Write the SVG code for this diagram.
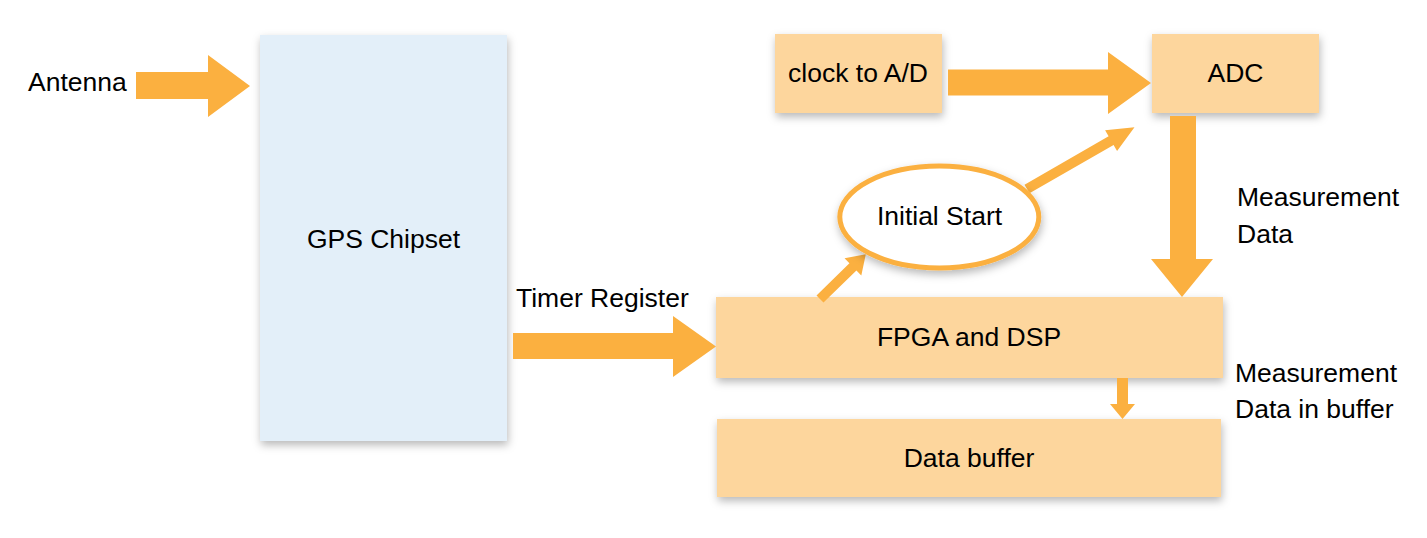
<svg xmlns="http://www.w3.org/2000/svg" width="1427" height="538" viewBox="0 0 1427 538">
<defs>
<filter id="sh" x="-20%" y="-20%" width="140%" height="150%">
<feDropShadow dx="1" dy="4" stdDeviation="4" flood-color="#000" flood-opacity="0.28"/>
</filter>
<style>
text{font-family:"Liberation Sans",Arial,sans-serif;font-size:26.5px;fill:#000}
.c{text-anchor:middle}
.box{fill:#FDD69D;filter:url(#sh)}
.blue{fill:#E3EFF9;filter:url(#sh)}
.arr{fill:#FBB040}
.ell{fill:#fff;stroke:#FBB040;stroke-width:5;filter:url(#sh)}
</style>
</defs>
<rect width="1427" height="538" fill="#fff"/>
<g id="gps"><rect class="blue" x="260" y="35" width="247" height="406"/><text class="c" x="383.5" y="248">GPS Chipset</text></g>
<g id="clock"><rect class="box" x="775" y="34" width="167" height="79"/><text class="c" x="858" y="82">clock to A/D</text></g>
<g id="adc"><rect class="box" x="1152" y="34" width="167" height="79"/><text class="c" x="1235.5" y="82">ADC</text></g>
<g id="fpga"><rect class="box" x="716" y="297" width="507" height="81"/><text class="c" x="969" y="345.5">FPGA and DSP</text></g>
<g id="buffer"><rect class="box" x="717" y="419" width="504" height="78"/><text class="c" x="969" y="467">Data buffer</text></g>
<g id="connectors">
<polygon class="arr" points="136,72 208,72 208,55 250,86 208,117 208,99 136,99"/>
<polygon class="arr" points="513,333 673,333 673,316 716,346.5 673,377 673,359 513,359"/>
<polygon class="arr" points="948,69.5 1108,69.5 1108,52 1151,83 1108,114 1108,95.5 948,95.5"/>
<polygon class="arr" points="1170,116 1196,116 1196,259 1213,259 1182,297 1151,259 1170,259"/>
<polygon class="arr" points="1117,378 1128,378 1128,404 1135,404 1122.5,419 1110,404 1117,404"/>
<path class="arr" transform="translate(820,299) rotate(-44.3)" d="M0,-5 H46 V-12 L64,0 L46,12 V5 H0 Z"/>
<path class="arr" transform="translate(1027,189) rotate(-29.9)" d="M0,-5 H97 V-12 L124,0 L97,12 V5 H0 Z"/>
<text x="28" y="91">Antenna</text>
<text x="516" y="306.5">Timer Register</text>
<text x="1237" y="206">Measurement</text>
<text x="1237" y="242.5">Data</text>
<text x="1235" y="381.5">Measurement</text>
<text x="1235" y="418">Data in buffer</text>
</g>
<g id="initial"><ellipse class="ell" cx="939.3" cy="217" rx="99.5" ry="51"/><text class="c" x="939.5" y="224.5">Initial Start</text></g>
</svg>
